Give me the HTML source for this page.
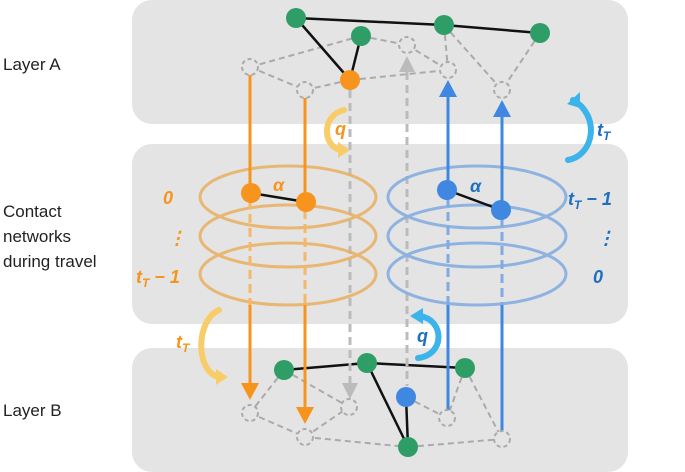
<!DOCTYPE html>
<html><head><style>
body{margin:0;width:685px;height:472px;background:#fff;overflow:hidden}
svg{display:block}
text{font-family:"Liberation Sans",sans-serif}
.m{font-family:"Liberation Serif",serif;font-weight:bold;font-style:italic}
</style></head><body>
<svg width="685" height="472" viewBox="0 0 685 472">
<defs>
<marker id="ao" markerWidth="6" markerHeight="6" refX="3" refY="5" orient="auto" markerUnits="userSpaceOnUse" viewBox="0 0 6 6"></marker>
</defs>
<rect x="132" y="0" width="496" height="124" rx="20" fill="#e4e4e4"/>
<rect x="132" y="144" width="496" height="180" rx="20" fill="#e4e4e4"/>
<rect x="132" y="348" width="496" height="124" rx="20" fill="#e4e4e4"/>

<g font-size="17" fill="#222">
<text x="3" y="70">Layer A</text>
<text x="3" y="217">Contact</text>
<text x="3" y="242">networks</text>
<text x="3" y="267">during travel</text>
<text x="3" y="416">Layer B</text>
</g>

<!-- top layer dashed edges -->
<g stroke="#aaa" stroke-width="2" stroke-dasharray="6,4" fill="none">
<line x1="250" y1="67" x2="361" y2="36"/><line x1="250" y1="67" x2="305" y2="90"/>
<line x1="305" y1="90" x2="350" y2="80"/><line x1="350" y1="80" x2="448" y2="70"/>
<line x1="361" y1="36" x2="407" y2="45"/><line x1="407" y1="45" x2="448" y2="70"/>
<line x1="444" y1="25" x2="448" y2="70"/><line x1="444" y1="25" x2="502" y2="90"/>
<line x1="540" y1="33" x2="502" y2="90"/>
</g>
<g stroke="#111" stroke-width="2.5">
<line x1="296" y1="18" x2="350" y2="80"/><line x1="361" y1="36" x2="350" y2="80"/>
<polyline points="296,18 444,25 540,33" fill="none"/>
</g>

<!-- bottom layer dashed edges -->
<g stroke="#aaa" stroke-width="2" stroke-dasharray="6,4" fill="none">
<line x1="284" y1="370" x2="250" y2="413"/><line x1="284" y1="370" x2="349" y2="407"/>
<line x1="250" y1="413" x2="305" y2="437"/><line x1="305" y1="437" x2="349" y2="407"/>
<line x1="305" y1="437" x2="408" y2="447"/><line x1="408" y1="447" x2="502" y2="439"/>
<line x1="406" y1="397" x2="447" y2="418"/><line x1="465" y1="368" x2="447" y2="418"/>
<line x1="465" y1="368" x2="502" y2="439"/>
</g>
<g stroke="#111" stroke-width="2.5" fill="none">
<polyline points="284,370 367,363 465,368"/>
<line x1="367" y1="363" x2="408" y2="447"/><line x1="406" y1="397" x2="408" y2="447"/>
</g>

<!-- grey dashed verticals -->
<g stroke="#bbb" stroke-width="3" stroke-dasharray="8,5">
<line x1="350" y1="90" x2="350" y2="384"/>
<line x1="407" y1="72" x2="407" y2="386"/>
</g>
<polygon points="342,383 358,383 350,399" fill="#bbb"/>
<polygon points="399,72 415,72 407,56" fill="#bbb"/>

<!-- ellipses -->
<g fill="none" stroke="#e8b060" stroke-width="3" opacity="0.85">
<ellipse cx="288" cy="274" rx="88" ry="31"/>
<ellipse cx="288" cy="236" rx="88" ry="31"/>
<ellipse cx="288" cy="197" rx="88" ry="31"/>
</g>
<g fill="none" stroke="#86aee0" stroke-width="3" opacity="0.9">
<ellipse cx="477" cy="274" rx="89" ry="31"/>
<ellipse cx="477" cy="236" rx="89" ry="31"/>
<ellipse cx="477" cy="197" rx="89" ry="31"/>
</g>

<!-- orange verticals -->
<g stroke="#f7941d" stroke-width="3">
<line x1="250" y1="72" x2="250" y2="193"/><line x1="250" y1="305" x2="250" y2="384"/>
<line x1="305" y1="95" x2="305" y2="202"/><line x1="305" y1="305" x2="305" y2="408"/>
</g>
<g stroke="#f5b868" stroke-width="3" stroke-dasharray="9,5">
<line x1="250" y1="200" x2="250" y2="305"/><line x1="305" y1="210" x2="305" y2="305"/>
</g>
<polygon points="241,383 259,383 250,400" fill="#f7941d"/>
<polygon points="296,407 314,407 305,424" fill="#f7941d"/>

<!-- blue verticals -->
<g stroke="#3f87e0" stroke-width="3">
<line x1="448" y1="96" x2="448" y2="190"/><line x1="448" y1="305" x2="448" y2="410"/>
<line x1="502" y1="116" x2="502" y2="210"/><line x1="502" y1="305" x2="502" y2="431"/>
</g>
<g stroke="#80aae4" stroke-width="3" stroke-dasharray="9,5">
<line x1="448" y1="198" x2="448" y2="305"/><line x1="502" y1="218" x2="502" y2="305"/>
</g>
<polygon points="439,97 457,97 448,80" fill="#3f87e0"/>
<polygon points="493,117 511,117 502,100" fill="#3f87e0"/>

<!-- middle edges -->
<g stroke="#111" stroke-width="2.5">
<line x1="251" y1="193" x2="306" y2="202"/><line x1="447" y1="190" x2="501" y2="210"/>
</g>

<!-- dashed circles -->
<g fill="#e4e4e4" stroke="#aaa" stroke-width="2" stroke-dasharray="4,3">
<circle cx="250" cy="67" r="8"/><circle cx="305" cy="90" r="8"/><circle cx="407" cy="45" r="8"/>
<circle cx="448" cy="70" r="8"/><circle cx="502" cy="90" r="8"/>
<circle cx="250" cy="413" r="8"/><circle cx="305" cy="437" r="8"/><circle cx="349" cy="407" r="8"/>
<circle cx="447" cy="418" r="8"/><circle cx="502" cy="439" r="8"/>
</g>

<!-- nodes -->
<g fill="#2e9e66">
<circle cx="296" cy="18" r="10"/><circle cx="361" cy="36" r="10"/><circle cx="444" cy="25" r="10"/><circle cx="540" cy="33" r="10"/>
<circle cx="284" cy="370" r="10"/><circle cx="367" cy="363" r="10"/><circle cx="465" cy="368" r="10"/><circle cx="408" cy="447" r="10"/>
</g>
<g fill="#f7941d">
<circle cx="350" cy="80" r="10"/><circle cx="251" cy="193" r="10"/><circle cx="306" cy="202" r="10"/>
</g>
<g fill="#3f87e0">
<circle cx="406" cy="397" r="10"/><circle cx="447" cy="190" r="10"/><circle cx="501" cy="210" r="10"/>
</g>

<!-- curved arrows -->
<g fill="none" stroke-linecap="round">
<path d="M344,110 C322,115 322,145 340,150" stroke="#f9cc6a" stroke-width="6"/>
<path d="M573,100 C600,115 595,155 568,160" stroke="#3ab4ea" stroke-width="6"/>
<path d="M219,310 C196,320 195,370 218,377" stroke="#f9cc6a" stroke-width="6"/>
<path d="M420,316 C445,320 445,355 418,358" stroke="#3ab4ea" stroke-width="6"/>
</g>
<polygon points="338,142 350,150 338,158" fill="#f9cc6a"/>
<polygon points="567,104 580,92 580,108" fill="#3ab4ea"/>
<polygon points="216,369 228,377 216,385" fill="#f9cc6a"/>
<polygon points="423,308 410,316 423,324" fill="#3ab4ea"/>

<!-- math labels -->
<g class="m" font-size="18">
<text x="335" y="135" fill="#f7941d">q</text>
<text x="597" y="136" fill="#1e6fc0">t<tspan font-size="12" dy="4">T</tspan></text>
<text x="176" y="348" fill="#f7941d">t<tspan font-size="12" dy="4">T</tspan></text>
<text x="417" y="342" fill="#1e6fc0">q</text>
<text x="273" y="191" fill="#f7941d">α</text>
<text x="470" y="192" fill="#1e6fc0">α</text>
<text x="163" y="204" fill="#f7941d">0</text>
<text x="168" y="244" fill="#f7941d">⋮</text>
<text x="136" y="283" fill="#f7941d">t<tspan font-size="12" dy="4">T</tspan><tspan dy="-4"> − 1</tspan></text>
<text x="568" y="205" fill="#1e6fc0">t<tspan font-size="12" dy="4">T</tspan><tspan dy="-4"> − 1</tspan></text>
<text x="597" y="244" fill="#1e6fc0">⋮</text>
<text x="593" y="283" fill="#1e6fc0">0</text>
</g>
</svg>
</body></html>
